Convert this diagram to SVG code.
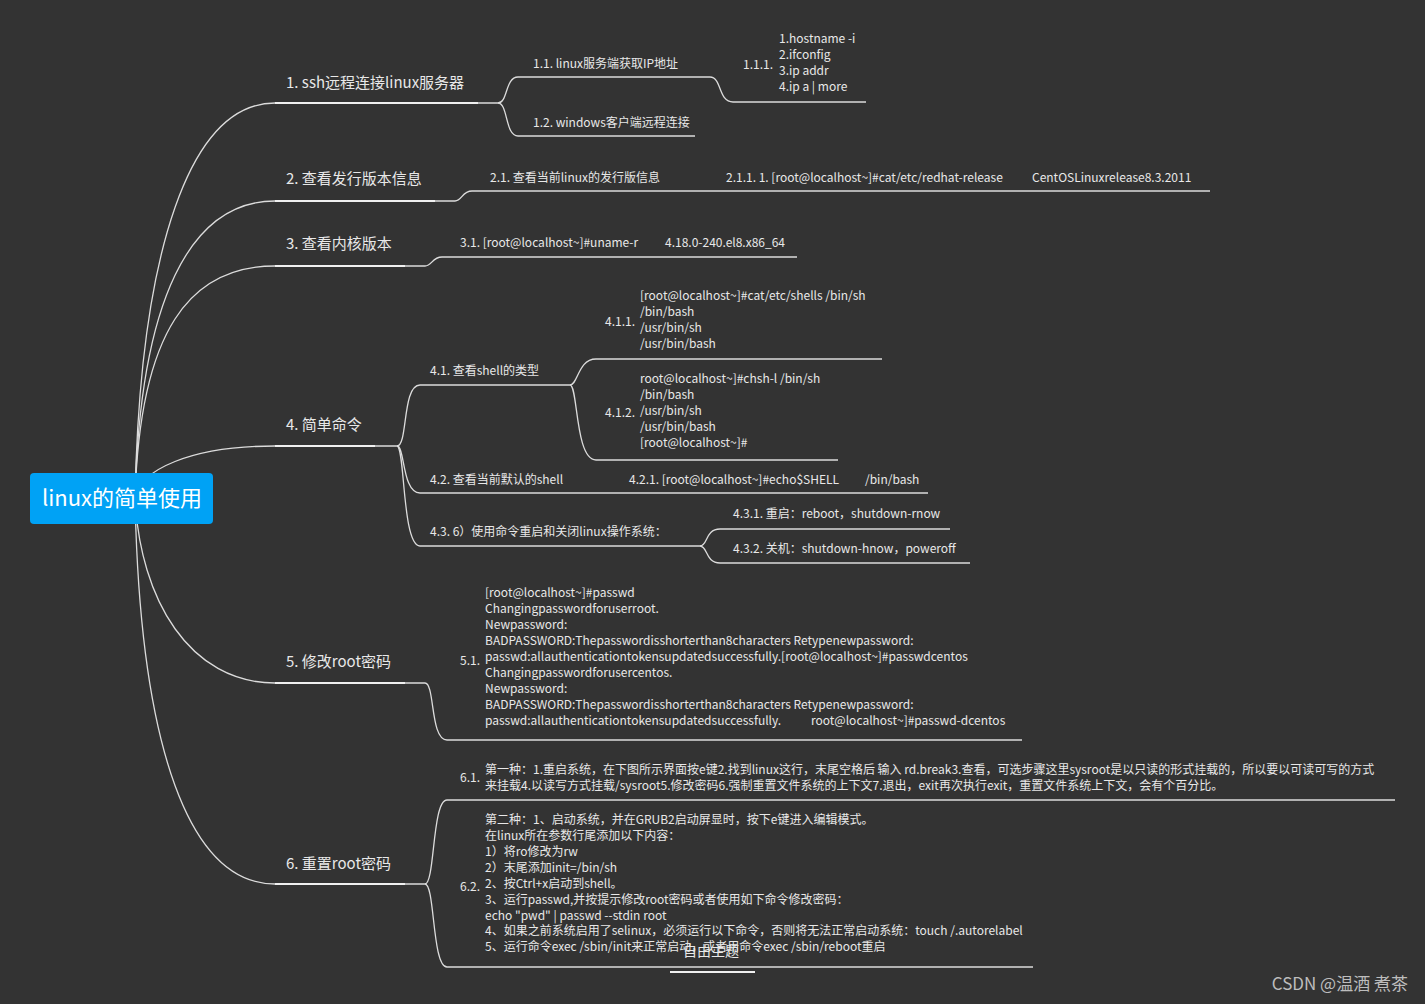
<svg xmlns="http://www.w3.org/2000/svg" width="1425" height="1004" viewBox="0 0 1425 1004">
<style>
text{font-family:"Microsoft YaHei","Noto Sans CJK SC",sans-serif;fill:#e8e8e8}
.l1{font-size:15px}
.s{font-size:12px}
.c{fill:none;stroke:#dcdcdc;stroke-width:1.3}
.u1{fill:none;stroke:#f0f0f0;stroke-width:2.2}
</style>
<rect width="1425" height="1004" fill="#333333"/>
<g id="connectors">
<path class="c" d="M135,498 C140,250 190,103 275,103"/>
<path class="c" d="M135,498 C140,300 190,201 275,201"/>
<path class="c" d="M135,498 C140,330 190,266 275,266"/>
<path class="c" d="M135,498 C140,470 190,446 275,446"/>
<path class="c" d="M135,498 C140,600 190,683 275,683"/>
<path class="c" d="M135,498 C140,750 190,884 275,884"/>
<path class="u1" d="M275,103H478M275,201H435M275,266H405M275,446H375M275,683H405M275,884H405"/>
<path class="c" d="M478,103H498 C508,103 505,77 518,77H710 C722,77 718,102 733,102H866"/>
<path class="c" d="M498,103 C508,103 505,136 518,136H695"/>
<path class="c" d="M435,201H455 C462,201 462,191 472,191H1210"/>
<path class="c" d="M405,266H425 C432,266 432,257 442,257H797"/>
<path class="c" d="M375,446H397 C408,446 402,385 420,385H570"/>
<path class="c" d="M397,446 C405,446 402,493 420,493H928"/>
<path class="c" d="M397,446 C405,446 402,546 420,546H680"/>
<path class="c" d="M570,385 C578,385 578,359 596,359H882"/>
<path class="c" d="M570,385 C578,385 575,460 596,460H838"/>
<path class="c" d="M680,546H700 C708,546 705,529 720,529H950"/>
<path class="c" d="M700,546 C708,546 705,563 720,563H970"/>
<path class="c" d="M405,683H425 C435,683 430,740 447,740H1022"/>
<path class="c" d="M405,884H425 C435,884 432,800 447,800H1395"/>
<path class="c" d="M425,884 C435,884 432,967 447,967H1033"/>
<path class="u1" d="M670,972H755"/>
</g>
<g id="root"><rect x="30" y="473" width="183" height="51" rx="4" fill="#00a2f5"/><text x="122" y="506" font-size="22" text-anchor="middle" style="fill:#fff">linux的简单使用</text></g>
<g id="n1"><text class="l1" x="286" y="88">1. ssh远程连接linux服务器</text></g>
<g id="n11"><text class="s" x="533" y="68">1.1. linux服务端获取IP地址</text></g>
<g id="n111"><text class="s" x="743" y="69">1.1.1.</text><text class="s" x="779" y="43">1.hostname -i</text><text class="s" x="779" y="59">2.ifconfig</text><text class="s" x="779" y="75">3.ip addr</text><text class="s" x="779" y="91">4.ip a | more</text></g>
<g id="n12"><text class="s" x="533" y="127">1.2. windows客户端远程连接</text></g>
<g id="n2"><text class="l1" x="286" y="184">2. 查看发行版本信息</text></g>
<g id="n21"><text class="s" x="490" y="182">2.1. 查看当前linux的发行版信息</text></g>
<g id="n211"><text class="s" x="726" y="182">2.1.1. 1. [root@localhost~]#cat/etc/redhat-release</text><text class="s" x="1032" y="182">CentOSLinuxrelease8.3.2011</text></g>
<g id="n3"><text class="l1" x="286" y="249">3. 查看内核版本</text></g>
<g id="n31"><text class="s" x="460" y="247">3.1. [root@localhost~]#uname-r</text><text class="s" x="665" y="247">4.18.0-240.el8.x86_64</text></g>
<g id="n4"><text class="l1" x="286" y="430">4. 简单命令</text></g>
<g id="n41"><text class="s" x="430" y="375">4.1. 查看shell的类型</text></g>
<g id="n411"><text class="s" x="605" y="326">4.1.1.</text><text class="s" x="640" y="300">[root@localhost~]#cat/etc/shells /bin/sh</text><text class="s" x="640" y="316">/bin/bash</text><text class="s" x="640" y="332">/usr/bin/sh</text><text class="s" x="640" y="348">/usr/bin/bash</text></g>
<g id="n412"><text class="s" x="605" y="417">4.1.2.</text><text class="s" x="640" y="383">root@localhost~]#chsh-l /bin/sh</text><text class="s" x="640" y="399">/bin/bash</text><text class="s" x="640" y="415">/usr/bin/sh</text><text class="s" x="640" y="431">/usr/bin/bash</text><text class="s" x="640" y="447">[root@localhost~]#</text></g>
<g id="n42"><text class="s" x="430" y="484">4.2. 查看当前默认的shell</text></g>
<g id="n421"><text class="s" x="629" y="484">4.2.1. [root@localhost~]#echo$SHELL</text><text class="s" x="865" y="484">/bin/bash</text></g>
<g id="n43"><text class="s" x="430" y="536">4.3. 6）使用命令重启和关闭linux操作系统：</text></g>
<g id="n431"><text class="s" x="733" y="518">4.3.1. 重启：reboot，shutdown-rnow</text></g>
<g id="n432"><text class="s" x="733" y="553">4.3.2. 关机：shutdown-hnow，poweroff</text></g>
<g id="n5"><text class="l1" x="286" y="667">5. 修改root密码</text></g>
<g id="n51"><text class="s" x="460" y="665">5.1.</text>
<text class="s" x="485" y="597">[root@localhost~]#passwd</text>
<text class="s" x="485" y="613">Changingpasswordforuserroot.</text>
<text class="s" x="485" y="629">Newpassword:</text>
<text class="s" x="485" y="645">BADPASSWORD:Thepasswordisshorterthan8characters Retypenewpassword:</text>
<text class="s" x="485" y="661">passwd:allauthenticationtokensupdatedsuccessfully.[root@localhost~]#passwdcentos</text>
<text class="s" x="485" y="677">Changingpasswordforusercentos.</text>
<text class="s" x="485" y="693">Newpassword:</text>
<text class="s" x="485" y="709">BADPASSWORD:Thepasswordisshorterthan8characters Retypenewpassword:</text>
<text class="s" x="485" y="725">passwd:allauthenticationtokensupdatedsuccessfully.</text><text class="s" x="811" y="725">root@localhost~]#passwd-dcentos</text></g>
<g id="n6"><text class="l1" x="286" y="869">6. 重置root密码</text></g>
<g id="n61"><text class="s" x="460" y="782">6.1.</text>
<text class="s" x="485" y="774">第一种：1.重启系统，在下图所示界面按e键2.找到linux这行，末尾空格后 输入 rd.break3.查看，可选步骤这里sysroot是以只读的形式挂载的，所以要以可读可写的方式</text>
<text class="s" x="485" y="790">来挂载4.以读写方式挂载/sysroot5.修改密码6.强制重置文件系统的上下文7.退出，exit再次执行exit，重置文件系统上下文，会有个百分比。</text></g>
<g id="n62"><text class="s" x="460" y="891">6.2.</text>
<text class="s" x="485" y="824">第二种：1、启动系统，并在GRUB2启动屏显时，按下e键进入编辑模式。</text>
<text class="s" x="485" y="840">在linux所在参数行尾添加以下内容：</text>
<text class="s" x="485" y="856">1）将ro修改为rw</text>
<text class="s" x="485" y="872">2）末尾添加init=/bin/sh</text>
<text class="s" x="485" y="888">2、按Ctrl+x启动到shell。</text>
<text class="s" x="485" y="904">3、运行passwd,并按提示修改root密码或者使用如下命令修改密码：</text>
<text class="s" x="485" y="920">echo "pwd" | passwd --stdin root</text>
<text class="s" x="485" y="935">4、如果之前系统启用了selinux，必须运行以下命令，否则将无法正常启动系统：touch /.autorelabel</text>
<text class="s" x="485" y="951">5、运行命令exec /sbin/init来正常启动，或者用命令exec /sbin/reboot重启</text></g>
<g id="free"><text x="683" y="956" font-size="14">自由主题</text></g>
<text x="1408" y="990" font-size="17" text-anchor="end" style="fill:#bdbdbd">CSDN @温酒 煮茶</text>
</svg>
